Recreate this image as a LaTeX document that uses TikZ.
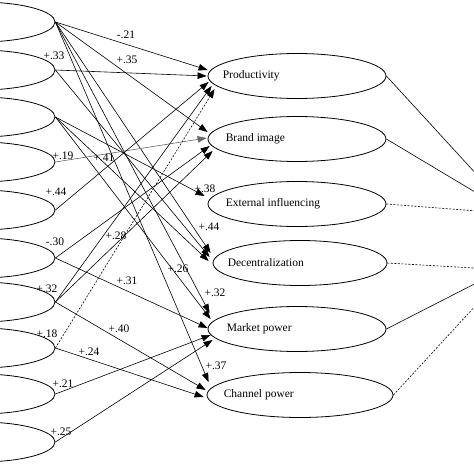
\documentclass[tikz,border=0pt]{standalone}
\usepackage{fontspec}
\setmainfont{Liberation Serif}
\usetikzlibrary{positioning}
\usetikzlibrary{arrows.meta}
\usetikzlibrary{shapes.geometric}

\begin{document}
\begin{tikzpicture}[x=1pt,y=-1pt,>={Triangle[length=9pt,width=6.5pt]},
  font=\fontsize{11.5}{13}\selectfont,
  src/.style={draw,ellipse,line width=0.8pt,minimum width=150pt,minimum height=40pt,inner sep=0pt},
  fac/.style={draw,ellipse,line width=0.8pt,minimum width=178pt,minimum height=45pt,inner sep=0pt},
  txt/.style={inner sep=0pt,anchor=west},
  lbl/.style={inner sep=0pt},
  link/.style={->,line width=0.6pt},
  weak/.style={line width=0.6pt,dash pattern=on 2pt off 1.5pt}]

\clip (0,0) rectangle (474,474);

% left column, cut by the border
\foreach \n/\y in {1/22,2/70,3/117,4/162,5/210,6/258,7/302,8/348,9/394,10/442}
  \node[src] (s\n) at (-20,\y) {};

% middle column
\node[fac] (prod) at (297,76) {};
\node[fac] (brand) at (297,139) {};
\node[fac] (ext) at (297,204) {};
\node[fac,minimum width=174pt] (dec) at (300,263) {};
\node[fac] (mkt) at (297,329) {};
\node[fac,minimum width=186pt] (chan) at (300,395) {};

\node[txt,right=15pt of prod.west] (tprod) {Productivity};
\node[txt,right=18pt of brand.west] (tbrand) {Brand image};
\node[txt,right=18pt of ext.west] (text) {External influencing};
\node[txt,right=15pt of dec.west] (tdec) {Decentralization};
\node[txt,right=19pt of mkt.west] (tmkt) {Market power};
\node[txt,right=17pt of chan.west] (tchan) {Channel power};

% paths
\draw[link] (s1.east) -- ([shift={(0,-6)}]prod.west);
\draw[link] (s1.east) -- ([shift={(0,-7)}]brand.west);
\draw[link] (s1.east) -- ([shift={(-2,-10)}]dec.west);
\draw[link] (s1.east) -- ([shift={(2,-16)}]mkt.west);
\draw[link] (s1.east) -- ([shift={(2,-13)}]chan.west);
\draw[link] (s2.east) -- ([shift={(-1,0)}]prod.west);
\draw[link] (s2.east) -- ([shift={(-3,-6)}]dec.west);
\draw[link] (s3.east) -- ([shift={(-3,-8)}]ext.west);
\draw[link] (s3.east) -- ([shift={(-4,-2)}]dec.west);
\draw[link] (s3.east) -- ([shift={(3,-10)}]mkt.west);
\draw[link,black!60] (s4.east) -- ([shift={(-1,-1)}]brand.west);
\draw[link] (s5.east) -- ([shift={(1,6)}]prod.west);
\draw[link] (s6.east) -- ([shift={(2,7)}]brand.west);
\draw[link] (s6.east) -- ([shift={(0,-1)}]mkt.west);
\draw[link] (s7.east) -- ([shift={(4,10)}]prod.west);
\draw[link] (s7.east) -- ([shift={(5,12)}]brand.west);
\draw[link] (s7.east) -- ([shift={(-1,-5)}]chan.west);
\draw[link,dash pattern=on 2pt off 1.5pt] (s8.east) -- ([shift={(7,13)}]prod.west);
\draw[link] (s8.east) -- ([shift={(-3,2)}]chan.west);
\draw[link] (s9.east) -- ([shift={(3,6)}]mkt.west);
\draw[link] (s10.east) -- ([shift={(5,11)}]mkt.west);

% weights
\node[lbl] (w01) at (126,35) {-.21};
\node[lbl] (w02) at (127,60) {+.35};
\node[lbl] (w03) at (54,56) {+.33};
\node[lbl] (w04) at (63,156) {+.19};
\node[lbl] (w05) at (104,158) {+.41};
\node[lbl] (w06) at (56,192) {+.44};
\node[lbl] (w07) at (55,242) {-.30};
\node[lbl] (w08) at (116,236) {+.28};
\node[lbl] (w09) at (127,281) {+.31};
\node[lbl] (w10) at (178,269) {+.26};
\node[lbl] (w11) at (205,189) {+.38};
\node[lbl] (w12) at (209,227) {+.44};
\node[lbl] (w13) at (47,289) {+.32};
\node[lbl] (w14) at (215,293) {+.32};
\node[lbl] (w15) at (216,366) {+.37};
\node[lbl] (w16) at (119,329) {+.40};
\node[lbl] (w17) at (47,334) {+.18};
\node[lbl] (w18) at (89,352) {+.24};
\node[lbl] (w19) at (63,384) {+.21};
\node[lbl] (w20) at (61,432) {+.25};

% towards the right column, cut by the border
\coordinate (r1) at (490,189);
\coordinate (r2) at (490,201);
\coordinate (r3) at (490,212);
\coordinate (r4) at (490,269);
\coordinate (r5) at (490,276);
\coordinate (r6) at (490,290);
\draw[line width=0.6pt] (prod.east) -- (r1);
\draw[line width=0.6pt] (brand.east) -- (r2);
\draw[weak] (ext.east) -- (r3);
\draw[weak] (dec.east) -- (r4);
\draw[line width=0.6pt] (mkt.east) -- (r5);
\draw[weak] (chan.east) -- (r6);

\end{tikzpicture}
\end{document}
